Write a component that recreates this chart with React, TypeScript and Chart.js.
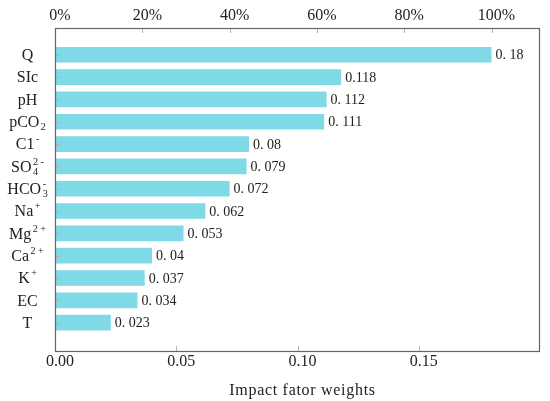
import React, { useEffect, useRef } from 'react';
import { Chart, registerables } from 'chart.js';

Chart.register(...registerables);

// ---- data ----
const categories = ['Q', 'SIc', 'pH', 'pCO', 'C1', 'SO', 'HCO', 'Na', 'Mg', 'Ca', 'K', 'EC', 'T'];
const categorySub = ['', '', '', '2', '', '4', '3', '', '', '', '', '', ''];
const categorySup = ['', '', '', '', '-', '2 -', '-', '+', '2 +', '2 +', '+', '', ''];
const weights = [0.18, 0.118, 0.112, 0.111, 0.08, 0.079, 0.072, 0.062, 0.053, 0.04, 0.037, 0.034, 0.023];
const weightLabels = ['0. 18', '0.118', '0. 112', '0. 111', '0. 08', '0. 079', '0. 072', '0. 062', '0. 053', '0. 04', '0. 037', '0. 034', '0. 023'];
const weightTicks = [0, 0.05, 0.1, 0.15];
const percentTicks = [0, 20, 40, 60, 80, 100];
const axisTitle = 'Impact fator weights';
const weightMax = 0.2;

const FONT = '"Liberation Serif", "Times New Roman", serif';
const TEXT = '#222';

const decorPlugin = {
  id: 'decor',
  afterDraw(chart: any) {
    const { ctx, chartArea: a, scales } = chart;
    const xs = scales.x, x2 = scales.x2, ys = scales.y;
    ctx.save();
    // inner tick marks
    ctx.strokeStyle = '#b4b4b4';
    ctx.lineWidth = 1;
    const L = 5;
    const line = (x1: number, y1: number, xx: number, yy: number) => {
      ctx.beginPath();
      ctx.moveTo(x1, y1);
      ctx.lineTo(xx, yy);
      ctx.stroke();
    };
    weightTicks.forEach((v) => {
      const px = Math.round(xs.getPixelForValue(v)) + 0.5;
      line(px, a.bottom, px, a.bottom - L);
    });
    percentTicks.forEach((v) => {
      const px = Math.round(x2.getPixelForValue(v)) + 0.5;
      line(px, a.top, px, a.top + L);
    });
    categories.forEach((_, i) => {
      const py = Math.round(ys.getPixelForValue(i)) + 0.5;
      line(a.left, py, a.left + L, py);
    });
    // frame
    ctx.strokeStyle = '#666';
    ctx.lineWidth = 1.2;
    ctx.strokeRect(Math.round(a.left) + 0.5, Math.round(a.top) + 0.5, Math.round(a.right - a.left) - 1, Math.round(a.bottom - a.top));

    // category labels with sub/superscripts
    ctx.fillStyle = TEXT;
    ctx.textAlign = 'left';
    ctx.textBaseline = 'alphabetic';
    const cx = a.left - 27.5;
    categories.forEach((base, i) => {
      const cy = ys.getPixelForValue(i);
      const sub = categorySub[i];
      const sup = categorySup[i];
      ctx.font = `16px ${FONT}`;
      const wb = ctx.measureText(base).width;
      ctx.font = `10px ${FONT}`;
      const ws = sub ? ctx.measureText(sub).width : 0;
      const wp = sup ? ctx.measureText(sup).width : 0;
      const gap = sub || sup ? 1.5 : 0;
      const total = wb + gap + Math.max(ws, wp);
      const x0 = cx - total / 2;
      const baseY = cy + 5.3;
      ctx.font = `16px ${FONT}`;
      ctx.fillText(base, x0, baseY);
      ctx.font = `10px ${FONT}`;
      if (sub) ctx.fillText(sub, x0 + wb + gap, baseY + 3);
      if (sup) ctx.fillText(sup, x0 + wb + gap, baseY - 7);
    });

    // value labels
    ctx.font = `14px ${FONT}`;
    ctx.textBaseline = 'middle';
    weights.forEach((w, i) => {
      const px = xs.getPixelForValue(w) + 4;
      const py = ys.getPixelForValue(i) + 1;
      ctx.fillText(weightLabels[i], px, py);
    });

    // axis title (letter-spaced like the reference)
    ctx.font = `16px ${FONT}`;
    (ctx as any).letterSpacing = '0.7px';
    ctx.textAlign = 'center';
    ctx.textBaseline = 'alphabetic';
    ctx.fillText(axisTitle, (a.left + a.right) / 2 + 5, a.bottom + 44);
    ctx.restore();
  },
};

export default function App() {
  const ref = useRef<HTMLCanvasElement | null>(null);

  useEffect(() => {
    if (!ref.current) return;
    Chart.defaults.font.family = FONT;
    const chart = new Chart(ref.current, {
      type: 'bar',
      data: {
        datasets: [
          {
            data: weights.map((w, i) => ({ x: w, y: i })) as any,
            backgroundColor: '#80d9e6',
            borderWidth: 0,
            categoryPercentage: 1,
            barPercentage: 0.7,
          },
        ],
      },
      options: {
        indexAxis: 'y',
        animation: false,
        responsive: false,
        maintainAspectRatio: false,
        layout: { padding: { left: 0, right: 10, top: 0, bottom: 2 } },
        plugins: { legend: { display: false }, tooltip: { enabled: false } },
        scales: {
          x: {
            type: 'linear',
            position: 'bottom',
            min: 0,
            max: weightMax,
            grid: { display: false, drawTicks: false },
            border: { display: false },
            afterBuildTicks: (s: any) => {
              s.ticks = weightTicks.map((v) => ({ value: v }));
            },
            afterFit: (s: any) => {
              s.height = 48;
            },
            ticks: {
              callback: (v: any) => Number(v).toFixed(2),
              font: { family: FONT, size: 16 },
              color: TEXT,
              padding: 1,
              labelOffset: 5,
              maxRotation: 0,
              autoSkip: false,
            },
          },
          x2: {
            type: 'linear',
            position: 'top',
            min: 0,
            max: (weightMax / weights[0]) * 100,
            grid: { display: false, drawTicks: false },
            border: { display: false },
            afterBuildTicks: (s: any) => {
              s.ticks = percentTicks.map((v) => ({ value: v }));
            },
            afterFit: (s: any) => {
              s.height = 28;
            },
            ticks: {
              callback: (v: any) => `${v}%`,
              font: { family: FONT, size: 16 },
              color: TEXT,
              padding: 3,
              labelOffset: 5,
              maxRotation: 0,
              autoSkip: false,
            },
          },
          y: {
            type: 'linear',
            reverse: true,
            offset: false,
            min: -1.2,
            max: 13.27,
            grid: { display: false, drawTicks: false, offset: false },
            border: { display: false },
            afterBuildTicks: (s: any) => {
              s.ticks = categories.map((_, i) => ({ value: i }));
            },
            afterFit: (s: any) => {
              s.width = 55;
            },
            ticks: { display: false },
          },
        },
      } as any,
      plugins: [decorPlugin],
    });
    return () => chart.destroy();
  }, []);

  return (
    <div style={{ position: 'fixed', left: 0, top: 0, width: 550, height: 401, background: '#fff' }}>
      <canvas ref={ref} width={550} height={401} />
    </div>
  );
}
